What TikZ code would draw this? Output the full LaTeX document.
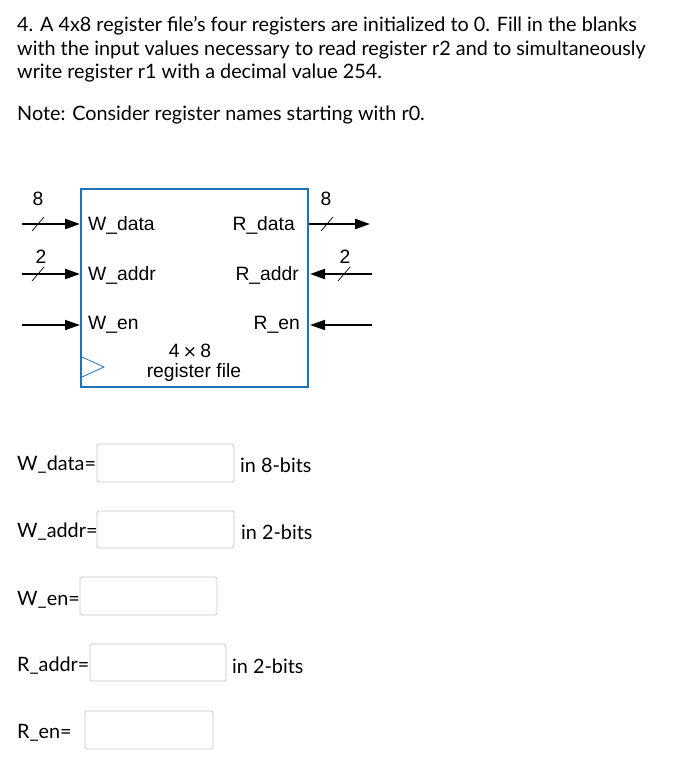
\documentclass[tikz,border=0pt]{standalone}
\usepackage{fontspec}
\setmainfont{Lato}
\newfontfamily\arialf{Liberation Sans}
\usetikzlibrary{arrows.meta}
\definecolor{rfblue}{HTML}{1E73BE}
\begin{document}
\begin{tikzpicture}[x=1pt,y=-1pt,
  qtext/.style={anchor=west,inner sep=0pt,font=\fontsize{19.8}{23}\selectfont},
  qjust/.style={qtext,text width=655pt,align=justify},
  sig/.style={inner sep=0pt,font=\arialf\fontsize{19.3}{22}\selectfont},
  wire/.style={line width=2.2pt,-{Triangle[length=15pt,width=10pt]}},
  thin/.style={line width=1.5pt,-{Triangle[length=15pt,width=10pt]}},
  slash/.style={line width=0.7pt},
  blank/.style={draw=black!22,rounded corners=1.5pt,line width=0.8pt}]
\useasboundingbox (0,0) rectangle (680,766);
\node[qjust] (q1) at (17,26) {\parfillskip=0pt 4. A 4x8 register file's four registers are initialized to 0. Fill in the blanks};
\node[qjust] (q2) at (17,50) {\parfillskip=0pt with the input values necessary to read register r2 and to simultaneously};
\node[qtext] (q3) at (17,73) {write register r1 with a decimal value 254.};
\node[qtext] (q4) at (17,115) {Note: Consider register names starting with r0.};
% register file
\draw[rfblue,line width=1.6pt] (81,189) rectangle (308,387);
\draw[rfblue,line width=0.8pt] (82,357) -- (104,367) -- (82,377);
\node[sig,anchor=west] (wd) at (88,225) {W\_data};
\node[sig,anchor=west] (wa) at (88,275) {W\_addr};
\node[sig,anchor=west] (we) at (88,325) {W\_en};
\node[sig,anchor=east] (rd) at (295,225) {R\_data};
\node[sig,anchor=east] (ra) at (299,275) {R\_addr};
\node[sig,anchor=east] (re) at (300,325) {R\_en};
\node[sig] (t1) at (190,351) {4\,{\fontspec{DejaVu Sans}\fontsize{17}{20}\selectfont ×}\,8};
\node[sig] (t2) at (194,373) {register file};
\coordinate (wdi) at (22,224); \coordinate (wdo) at (80,224);
\coordinate (wai) at (22,274); \coordinate (wao) at (80,274);
\coordinate (wei) at (22,325); \coordinate (weo) at (80,325);
\coordinate (rdi) at (309,224); \coordinate (rdo) at (370,224);
\coordinate (rai) at (372,274); \coordinate (rao) at (310,274);
\coordinate (rei) at (372,325); \coordinate (reo) at (310,325);
\draw[wire] (wdi) -- (wdo);
\draw[wire] (wai) -- (wao);
\draw[thin] (wei) -- (weo);
\draw[wire] (rdi) -- (rdo);
\draw[wire] (rai) -- (rao);
\draw[thin] (rei) -- (reo);
\draw[slash] (32,231) -- (44,217);
\draw[slash] (32,281) -- (44,267);
\draw[slash] (321,231) -- (333,217);
\draw[slash] (338,281) -- (350,267);
\node[sig] (n1) at (38,199) {8};
\node[sig] (n2) at (41,257) {2};
\node[sig] (n3) at (326,199) {8};
\node[sig] (n4) at (345,257) {2};
% answer fields
\node[qtext] (l1) at (17,465) {W\_data=};
\draw[blank] (97,444) rectangle (234,482);
\node[qtext] (u1) at (240,465) {in 8-bits};
\node[qtext] (l2) at (17,532) {W\_addr=};
\draw[blank] (97,511) rectangle (234,548);
\node[qtext] (u2) at (241,532) {in 2-bits};
\node[qtext] (l3) at (17,600) {W\_en=};
\draw[blank] (80,577) rectangle (217,615);
\node[qtext] (l4) at (17,666) {R\_addr=};
\draw[blank] (90,644) rectangle (226,681);
\node[qtext] (u4) at (232,666) {in 2-bits};
\node[qtext] (l5) at (17,733) {R\_en=};
\draw[blank] (85,711) rectangle (213,749);
\end{tikzpicture}
\end{document}
